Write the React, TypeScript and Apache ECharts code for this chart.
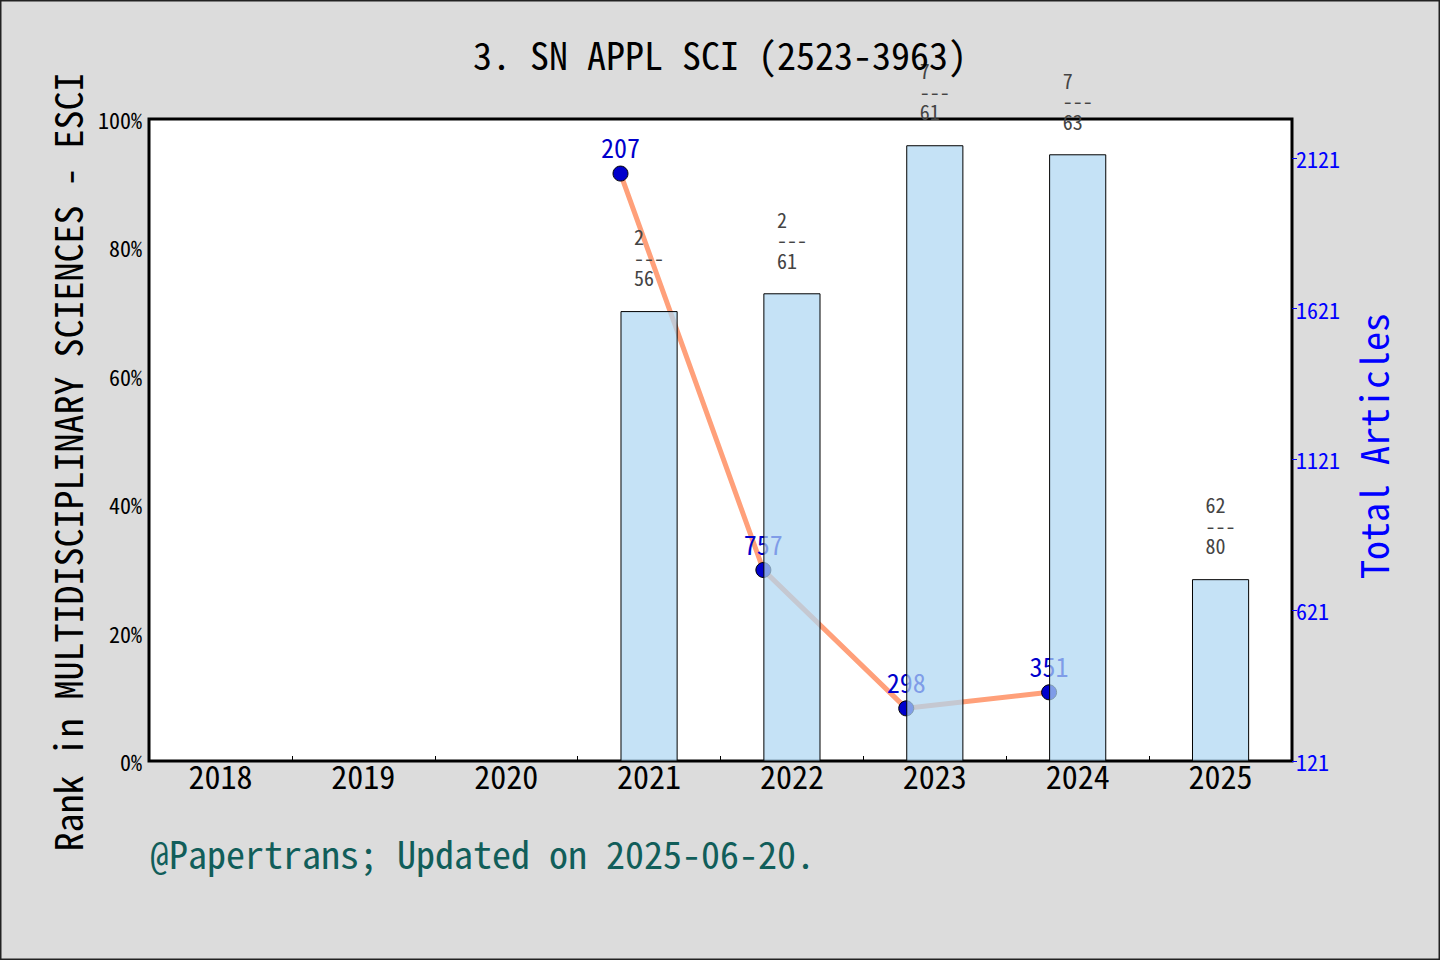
import React, { useEffect, useRef } from "react";
import * as echarts from "echarts";

const categories = ["2018", "2019", "2020", "2021", "2022", "2023", "2024", "2025"];
const totalArticles: (number | null)[] = [null, null, null, 1613, 1672, 2163, 2133, 724];
const rankPercent: (number | null)[] = [null, null, null, 91.5, 29.75, 8.2, 10.7, null];
const rankLabels = ["", "", "", "207", "757", "298", "351", ""];
const barLabelTop = ["", "", "", "2", "2", "7", "7", "62"];
const barLabelBottom = ["", "", "", "56", "61", "61", "63", "80"];
const rightTicks = [121, 621, 1121, 1621, 2121];
const rightMin = 121;
const rightMax = 2250;

const FONT = '"Noto Sans Mono CJK SC", "DejaVu Sans Mono", monospace';

export default function App() {
  const ref = useRef<HTMLDivElement>(null);
  useEffect(() => {
    if (!ref.current) return;
    const chart = echarts.init(ref.current, undefined, { renderer: "svg" });
    const lineData = categories
      .map((c, i) =>
        rankPercent[i] == null ? null : { value: [i - 0.2, rankPercent[i]], name: rankLabels[i] }
      )
      .filter((d) => d != null);
    const barData = categories.map((c, i) =>
      totalArticles[i] == null
        ? { value: null, label: { show: false } }
        : { value: totalArticles[i] }
    );
    chart.setOption({
      animation: false,
      backgroundColor: "#dcdcdc",
      textStyle: { fontFamily: FONT },
      title: {
        text: "3. SN APPL SCI (2523-3963)",
        left: "center",
        top: 29,
        textStyle: { fontFamily: FONT, fontSize: 38, fontWeight: "normal", color: "#000" },
      },
      grid: {
        left: 149,
        right: 148,
        top: 119,
        bottom: 199,
        show: true,
        backgroundColor: "#fff",
        borderColor: "#000",
        borderWidth: 3,
      },
      xAxis: [
        {
          type: "category",
          data: categories,
          axisLine: { show: false },
          axisTick: { show: true, inside: true, length: 5, lineStyle: { color: "#000", width: 1 } },
          axisLabel: { fontFamily: FONT, fontSize: 32, color: "#000", margin: -2 },
          splitLine: { show: false },
        },
        { type: "value", min: -0.5, max: 7.5, show: false },
      ],
      yAxis: [
        {
          type: "value",
          min: 0,
          max: 100,
          interval: 20,
          position: "left",
          axisLine: { show: false },
          axisTick: { show: false },
          splitLine: { show: false },
          axisLabel: { fontFamily: FONT, fontSize: 22, color: "#000", margin: 7, formatter: "{value}%" },
        },
        {
          type: "value",
          min: rightMin,
          max: rightMax,
          position: "right",
          axisLine: { show: false },
          splitLine: { show: false },
          axisTick: {
            show: true,
            length: 5,
            customValues: rightTicks,
            lineStyle: { color: "#0000ff", width: 1 },
          },
          axisLabel: {
            fontFamily: FONT,
            fontSize: 22,
            color: "#0000ff",
            margin: 4,
            customValues: rightTicks,
            formatter: (v: number) => String(v),
          },
        },
      ],
      series: [
        {
          type: "line",
          xAxisIndex: 1,
          yAxisIndex: 0,
          z: 1,
          data: lineData,
          symbol: "circle",
          symbolSize: 15,
          lineStyle: { color: "#FFA07A", width: 5 },
          itemStyle: { color: "#0000cc", borderColor: "#000", borderWidth: 1 },
          label: {
            show: true,
            position: "top",
            distance: 6,
            formatter: "{b}",
            fontFamily: FONT,
            fontSize: 26,
            color: "#0000cc",
          },
        },
        {
          type: "bar",
          xAxisIndex: 0,
          yAxisIndex: 1,
          z: 2,
          barWidth: "40%",
          data: barData,
          itemStyle: { color: "rgba(175,215,243,0.725)", borderColor: "#000", borderWidth: 1 },
          label: {
            show: true,
            position: "top",
            distance: 23,
            align: "center",
            formatter: (p: any) =>
              `{a|${barLabelTop[p.dataIndex]}}\n{a|---}\n{a|${barLabelBottom[p.dataIndex]}}`,
            rich: {
              a: { align: "left", fontFamily: FONT, fontSize: 20, lineHeight: 20.5, color: "#444" },
            },
          },
        },
      ],
      graphic: [
        {
          type: "rect",
          shape: { x: 0, y: 0, width: 1440, height: 960 },
          style: { fill: "none", stroke: "#222", lineWidth: 3 },
          silent: true,
        },
        {
          type: "text",
          x: 66,
          y: 462,
          rotation: Math.PI / 2,
          style: {
            text: "Rank in MULTIDISCIPLINARY SCIENCES - ESCI",
            font: `38px ${FONT}`,
            fill: "#000",
            textAlign: "center",
            textVerticalAlign: "middle",
          },
        },
        {
          type: "text",
          x: 1372,
          y: 446,
          rotation: Math.PI / 2,
          style: {
            text: "Total Articles",
            font: `38px ${FONT}`,
            fill: "#0000ff",
            textAlign: "center",
            textVerticalAlign: "middle",
          },
        },
        {
          type: "text",
          x: 150,
          y: 852,
          style: {
            text: "@Papertrans; Updated on 2025-06-20.",
            font: `38px ${FONT}`,
            fill: "#115e5a",
            textAlign: "left",
            textVerticalAlign: "middle",
          },
        },
      ],
    });
    return () => chart.dispose();
  }, []);
  return (
    <div
      ref={ref}
      style={{ position: "fixed", left: 0, top: 0, width: 1440, height: 960 }}
    />
  );
}
